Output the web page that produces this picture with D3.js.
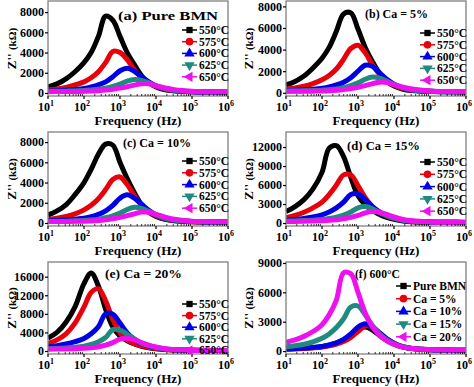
<!DOCTYPE html>
<html>
<head>
<meta charset="utf-8">
<script src="https://cdn.jsdelivr.net/npm/d3@7"></script>
<style>
  body { margin: 0; background: #fff; }
  svg { display: block; }
  text { font-family: "Liberation Serif", "Times New Roman", serif; font-weight: bold; fill: #000; }
</style>
</head>
<body>
<div id="chart"></div>
<script>
// frequency grid (Hz) shared by all series
const freq = [10, 17.8, 31.6, 56.2, 100, 158, 251, 398, 631, 1000, 1585, 2512, 3981, 6310,
              10000, 17783, 31623, 100000, 316228, 1000000];

// Z'' (kOhm)
// (a) Pure BMN
const a550 = [600, 900, 1400, 2100, 3000, 4000, 5600, 7600, 7200, 5600, 4000, 2800, 1700, 1000, 600, 320, 210, 120, 100, 80];
const a575 = [300, 400, 550, 800, 1100, 1500, 2100, 3000, 4100, 4000, 3300, 2300, 1500, 1000, 650, 350, 220, 130, 100, 80];
const a600 = [200, 230, 280, 350, 450, 600, 800, 1100, 1600, 2200, 2450, 2150, 1600, 1100, 700, 400, 250, 130, 100, 80];
const a625 = [150, 160, 180, 200, 240, 290, 360, 470, 640, 880, 1180, 1340, 1250, 1000, 720, 430, 270, 140, 100, 90];
const a650 = [130, 135, 140, 150, 170, 190, 230, 290, 370, 480, 620, 780, 920, 920, 700, 500, 330, 170, 120, 110];
// (b) Ca = 5%
const b550 = [730, 1050, 1550, 2300, 3200, 4200, 5700, 7300, 7400, 5900, 4200, 2900, 1800, 1050, 620, 330, 210, 120, 100, 80];
const b575 = [350, 450, 600, 850, 1200, 1600, 2200, 3100, 4100, 4400, 3700, 2600, 1700, 1100, 700, 380, 230, 130, 100, 80];
const b600 = [200, 230, 270, 330, 420, 540, 720, 980, 1400, 2000, 2550, 2450, 1850, 1250, 800, 430, 260, 140, 100, 90];
const b625 = [150, 160, 175, 200, 240, 290, 360, 480, 660, 920, 1250, 1450, 1350, 1080, 770, 450, 280, 140, 100, 90];
const b650 = [130, 135, 140, 150, 170, 195, 235, 300, 390, 510, 660, 840, 980, 950, 760, 520, 340, 170, 120, 110];
// (c) Ca = 10%
const c550 = [780, 1200, 1800, 2800, 4000, 5300, 6800, 7800, 7700, 6000, 4400, 3000, 1800, 1050, 650, 350, 220, 130, 100, 90];
const c575 = [350, 480, 650, 900, 1300, 1750, 2400, 3300, 4300, 4550, 3800, 2700, 1750, 1150, 720, 400, 240, 130, 100, 90];
const c600 = [220, 250, 300, 380, 480, 620, 850, 1200, 1750, 2450, 2780, 2450, 1850, 1250, 800, 440, 270, 140, 100, 90];
const c625 = [150, 160, 180, 210, 250, 300, 380, 510, 700, 980, 1330, 1550, 1450, 1150, 820, 480, 290, 150, 110, 100];
const c650 = [140, 145, 150, 160, 180, 205, 250, 320, 420, 550, 720, 900, 1080, 1060, 860, 580, 370, 180, 130, 120];
// (d) Ca = 15%
const d550 = [1800, 2600, 3700, 5400, 8000, 11800, 12200, 10500, 7200, 4300, 2900, 2000, 1350, 880, 580, 330, 220, 140, 110, 100];
const d575 = [800, 1200, 1700, 2400, 3300, 4500, 6000, 7600, 7600, 5900, 4000, 2600, 1700, 1100, 700, 400, 250, 150, 110, 100];
const d600 = [450, 550, 700, 950, 1300, 1750, 2400, 3300, 4500, 4600, 3700, 2600, 1750, 1150, 750, 430, 270, 150, 110, 100];
const d625 = [300, 330, 380, 450, 560, 700, 920, 1250, 1750, 2400, 2600, 2250, 1650, 1150, 760, 440, 280, 150, 110, 100];
const d650 = [250, 260, 280, 310, 360, 420, 520, 680, 900, 1200, 1600, 1820, 1700, 1350, 950, 560, 350, 180, 130, 120];
// (e) Ca = 20%
const e550 = [2800, 4000, 6200, 9500, 14500, 16800, 14000, 9000, 5200, 3200, 2200, 1500, 1000, 700, 500, 320, 220, 150, 120, 100];
const e575 = [1650, 2400, 3700, 6000, 9500, 12600, 13400, 10800, 6800, 3900, 2400, 1600, 1100, 750, 520, 330, 230, 150, 120, 100];
const e600 = [900, 1150, 1500, 2000, 2700, 3700, 5200, 8000, 7900, 6000, 3900, 2500, 1600, 1050, 700, 400, 260, 160, 120, 100];
const e625 = [500, 560, 650, 800, 1050, 1400, 2000, 2900, 4600, 4500, 3600, 2600, 1700, 1150, 750, 430, 280, 160, 120, 100];
const e650 = [400, 420, 450, 500, 580, 700, 900, 1250, 1800, 2550, 2750, 2400, 1800, 1250, 850, 500, 320, 180, 130, 120];

const tempLabels = ["550°C", "575°C", "600°C", "625°C", "650°C"];
const caLabels = ["Pure BMN", "Ca = 5%", "Ca = 10%", "Ca = 15%", "Ca = 20%"];
const xTickExp = [1, 2, 3, 4, 5, 6];

const colors = ["#000000", "#e8000a", "#0000e6", "#1f8a7e", "#ee10ee"];
const symbols = [
  {type: d3.symbolSquare, rot: 0},
  {type: d3.symbolCircle, rot: 0},
  {type: d3.symbolTriangle, rot: 0},
  {type: d3.symbolTriangle, rot: 180},
  {type: d3.symbolTriangle, rot: -90}
];

const panels = [
  {title: "(a) Pure BMN", data: [a550, a575, a600, a625, a650], labels: tempLabels,
   x0: 48, x1: 228, y0: 1, y1: 96, yDom: [-300, 9100], yTicks: [0, 2000, 4000, 6000, 8000],
   tx: 118, ty: 20, tw: 100, lx: 182, ly: 30, ld: 11.7, ylx: 12},
  {title: "(b) Ca = 5%", data: [b550, b575, b600, b625, b650], labels: tempLabels,
   x0: 286, x1: 466, y0: 1, y1: 96, yDom: [-300, 8500], yTicks: [0, 2000, 4000, 6000, 8000],
   tx: 365, ty: 18, tw: 63, lx: 420, ly: 33, ld: 11.8, ylx: 249},
  {title: "(c) Ca = 10%", data: [c550, c575, c600, c625, c650], labels: tempLabels,
   x0: 48, x1: 228, y0: 132, y1: 226, yDom: [-300, 9000], yTicks: [0, 2000, 4000, 6000, 8000],
   tx: 123, ty: 147, tw: 68, lx: 182, ly: 161, ld: 11.8, ylx: 12},
  {title: "(d) Ca = 15%", data: [d550, d575, d600, d625, d650], labels: tempLabels,
   x0: 286, x1: 466, y0: 132, y1: 226, yDom: [-470, 14370], yTicks: [0, 3000, 6000, 9000, 12000],
   tx: 347, ty: 150, tw: 73, lx: 420, ly: 162, ld: 12.3, ylx: 249},
  {title: "(e) Ca = 20%", data: [e550, e575, e600, e625, e650], labels: tempLabels,
   x0: 48, x1: 228, y0: 262, y1: 354, yDom: [-645, 19160], yTicks: [0, 4000, 8000, 12000, 16000],
   tx: 105, ty: 278, tw: 77, lx: 182, ly: 304, ld: 11.6, ylx: 12},
  {title: "(f) 600°C", data: [a600, b600, c600, d600, e600], labels: caLabels,
   x0: 286, x1: 466, y0: 262, y1: 354, yDom: [-300, 9100], yTicks: [0, 3000, 6000, 9000],
   tx: 355, ty: 278, tw: 45, lx: 396, ly: 286, ld: 12.7, ylx: 249}
];

const svg = d3.select("#chart").append("svg")
  .attr("width", 474)
  .attr("height", 387);

panels.forEach(p => {
  const x = d3.scaleLog().domain([10, 1e6]).range([p.x0, p.x1]);
  const y = d3.scaleLinear().domain(p.yDom).range([p.y1, p.y0]);
  const g = svg.append("g");

  // curves
  const line = d3.line()
    .x((d, i) => x(freq[i]))
    .y(d => y(d))
    .curve(d3.curveCatmullRom.alpha(0.5));

  const clipId = "clip" + p.x0 + "_" + p.y0;
  g.append("clipPath").attr("id", clipId)
    .append("rect").attr("x", p.x0).attr("y", p.y0)
    .attr("width", p.x1 - p.x0).attr("height", p.y1 - p.y0);

  g.append("g").attr("clip-path", `url(#${clipId})`)
    .selectAll("path")
    .data(p.data)
    .enter().append("path")
    .attr("d", line)
    .attr("fill", "none")
    .attr("stroke", (d, i) => colors[i])
    .attr("stroke-width", 5)
    .attr("stroke-linejoin", "round");

  // frame
  g.append("rect")
    .attr("x", p.x0).attr("y", p.y0)
    .attr("width", p.x1 - p.x0).attr("height", p.y1 - p.y0)
    .attr("fill", "none")
    .attr("stroke", "#808080")
    .attr("stroke-width", 1.3);

  // y axis
  const yAxis = g.append("g")
    .attr("transform", `translate(${p.x0},0)`)
    .call(d3.axisLeft(y).tickValues(p.yTicks).tickSize(3).tickPadding(1).tickFormat(d3.format("d")));
  yAxis.select(".domain").remove();
  yAxis.selectAll("line").attr("stroke", "#000").attr("stroke-width", 1.2);
  yAxis.selectAll("text").attr("font-size", 12).attr("font-family", null);

  // x axis, decades + minor ticks
  const minor = [];
  for (let e = 1; e < 6; e++) for (let k = 2; k < 10; k++) minor.push(k * Math.pow(10, e));
  g.append("g").selectAll("line").data(minor).enter().append("line")
    .attr("x1", d => x(d)).attr("x2", d => x(d))
    .attr("y1", p.y1).attr("y2", p.y1 - 2)
    .attr("stroke", "#000").attr("stroke-width", 0.8);

  g.append("g").selectAll("line").data(xTickExp).enter().append("line")
    .attr("x1", d => x(Math.pow(10, d))).attr("x2", d => x(Math.pow(10, d)))
    .attr("y1", p.y1).attr("y2", p.y1 + 3)
    .attr("stroke", "#000").attr("stroke-width", 1.2);

  const xl = g.append("g").selectAll("text").data(xTickExp).enter().append("text")
    .attr("x", d => x(Math.pow(10, d)) - 2)
    .attr("y", p.y1 + 14.5)
    .attr("text-anchor", "middle")
    .attr("font-size", 12);
  xl.append("tspan").text("10");
  xl.append("tspan").attr("dy", -5).attr("font-size", 8).text(d => d);

  g.append("text")
    .attr("x", (p.x0 + p.x1) / 2)
    .attr("y", p.y1 + 28.5)
    .attr("text-anchor", "middle")
    .attr("font-size", 13)
    .text("Frequency (Hz)");

  // y label
  const yl = g.append("text")
    .attr("transform", `translate(${p.ylx + 4},${(p.y0 + p.y1) / 2}) rotate(-90)`)
    .attr("text-anchor", "middle");
  yl.append("tspan").attr("font-size", 13).text("Z'' ");
  yl.append("tspan").attr("font-size", 11).text("(kΩ)");

  // title
  g.append("text")
    .attr("x", p.tx).attr("y", p.ty)
    .attr("font-size", 13.5)
    .attr("textLength", p.tw)
    .attr("lengthAdjust", "spacingAndGlyphs")
    .text(p.title);

  // legend
  const lg = g.append("g");
  p.labels.forEach((lab, i) => {
    const cy = p.ly + i * p.ld;
    lg.append("line")
      .attr("x1", p.lx).attr("x2", p.lx + 15)
      .attr("y1", cy).attr("y2", cy)
      .attr("stroke", colors[i]).attr("stroke-width", 1.5);
    lg.append("path")
      .attr("d", d3.symbol().type(symbols[i].type).size(i === 0 ? 40 : 46)())
      .attr("transform", `translate(${p.lx + 7.5},${cy}) rotate(${symbols[i].rot})`)
      .attr("fill", colors[i]);
    lg.append("text")
      .attr("x", p.lx + 17).attr("y", cy + 4)
      .attr("font-size", 11.5)
      .text(lab);
  });
});
</script>
</body>
</html>
